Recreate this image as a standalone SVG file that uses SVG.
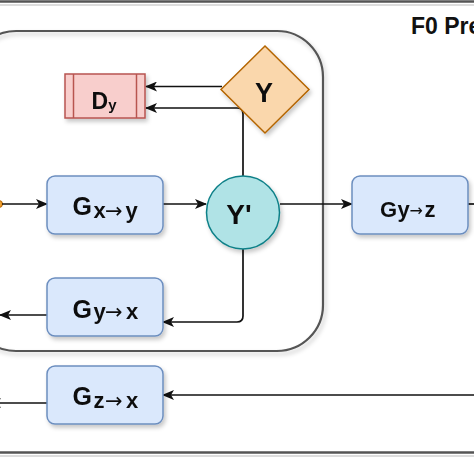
<svg xmlns="http://www.w3.org/2000/svg" width="474" height="474" viewBox="0 0 474 474">
<style>
text{font-family:"Liberation Sans",Arial,sans-serif;font-weight:bold;fill:#111}
.ar{font-family:"DejaVu Sans",sans-serif;font-weight:normal}
.g{fill:#dae8fc;stroke:#6c8ebf;stroke-width:1.5}
.c{fill:none;stroke:#111;stroke-width:1.7}
</style>
<defs>
<filter id="sh" x="-20%" y="-20%" width="150%" height="150%">
<feDropShadow dx="2" dy="3" stdDeviation="2" flood-color="#000" flood-opacity="0.22"/>
</filter>
<marker id="ar" viewBox="0 0 12 10" refX="11" refY="5" markerWidth="12" markerHeight="10" markerUnits="userSpaceOnUse" orient="auto">
<path d="M0,0 L12,5 L0,10 L3,5 Z" fill="#111"/>
</marker>
</defs>
<rect width="474" height="474" fill="#fff"/>
<g id="frame">
<line x1="0" y1="5" x2="474" y2="5" stroke="#ddd" stroke-width="2"/>
<line x1="0" y1="1.5" x2="474" y2="1.5" stroke="#555" stroke-width="2.5"/>
<line x1="0" y1="456" x2="474" y2="456" stroke="#ddd" stroke-width="2"/>
<line x1="0" y1="452.5" x2="474" y2="452.5" stroke="#555" stroke-width="2.5"/>
<text x="411" y="33.5" font-size="23">F0 Pre</text>
</g>
<g id="inner">
<rect x="-30" y="31" width="353" height="320" rx="46" ry="46" fill="none" stroke="#555" stroke-width="2.2" filter="url(#sh)"/>
</g>
<g id="connectors">
<circle cx="-1" cy="204" r="3.5" fill="#f0a030" stroke="#b46504"/>
<line class="c" x1="2" y1="204" x2="47" y2="204" marker-end="url(#ar)"/>
<line class="c" x1="163" y1="204" x2="206" y2="204" marker-end="url(#ar)"/>
<line class="c" x1="280" y1="204" x2="352" y2="204" marker-end="url(#ar)"/>
<line class="c" x1="468" y1="204" x2="474" y2="204"/>
<line class="c" x1="222" y1="86.5" x2="146" y2="86.5" marker-end="url(#ar)"/>
<path class="c" d="M243,176 V114 Q243,108 237,108 H146" marker-end="url(#ar)"/>
<path class="c" d="M243,249 V316 Q243,322 237,322 H163" marker-end="url(#ar)"/>
<line class="c" x1="47" y1="315" x2="0" y2="315" marker-end="url(#ar)"/>
<line class="c" x1="474" y1="395" x2="163" y2="395" marker-end="url(#ar)"/>
<line class="c" x1="47" y1="403" x2="-10" y2="403" marker-end="url(#ar)" stroke-width="1.2"/>
</g>
<g id="Dy" filter="url(#sh)">
<rect x="65" y="74" width="80" height="44" fill="#f8cecc" stroke="#b85450" stroke-width="1.5"/>
<line x1="73.5" y1="74" x2="73.5" y2="118" stroke="#b85450" stroke-width="1.5"/>
<line x1="136.5" y1="74" x2="136.5" y2="118" stroke="#b85450" stroke-width="1.5"/>
<text x="91.5" y="108.5" font-size="23">D<tspan font-size="15" dy="1.5">y</tspan></text>
</g>
<g id="Y" filter="url(#sh)">
<polygon points="265,46 309,89.5 265,133 221,89.5" fill="#fad7ac" stroke="#b46504" stroke-width="1.5"/>
<text x="264" y="101.5" font-size="27" text-anchor="middle">Y</text>
</g>
<g id="Yp" filter="url(#sh)">
<circle cx="243" cy="212.5" r="36.5" fill="#b0e3e6" stroke="#0e8088" stroke-width="1.5"/>
<text x="239" y="224" font-size="28" text-anchor="middle">Y'</text>
</g>
<g id="Gxy" filter="url(#sh)">
<rect class="g" x="47" y="176" width="116" height="58" rx="8"/>
<text x="72.5" y="215" font-size="25">G<tspan x="93.5" font-size="22" dy="3">x</tspan><tspan class="ar" x="105" font-size="21">→</tspan><tspan x="125.5" font-size="22">y</tspan></text>
</g>
<g id="Gyx" filter="url(#sh)">
<rect class="g" x="47" y="278" width="116" height="58" rx="8"/>
<text x="72.5" y="318" font-size="25">G<tspan x="93.5" font-size="22" dy="1">y</tspan><tspan class="ar" x="105" font-size="21">→</tspan><tspan x="126" font-size="22">x</tspan></text>
</g>
<g id="Gzx" filter="url(#sh)">
<rect class="g" x="47" y="366" width="116" height="58" rx="8"/>
<text x="72.5" y="405" font-size="25">G<tspan x="93.5" font-size="22" dy="3">z</tspan><tspan class="ar" x="105" font-size="21">→</tspan><tspan x="126" font-size="22">x</tspan></text>
</g>
<g id="Gyz" filter="url(#sh)">
<rect class="g" x="352" y="176" width="116" height="58" rx="8"/>
<text x="380" y="216.5" font-size="22">G<tspan x="397.5" font-size="22">y</tspan><tspan class="ar" x="409.5" font-size="16" dy="-1">→</tspan><tspan x="424.5" font-size="22" dy="1">z</tspan></text>
</g>
</svg>
